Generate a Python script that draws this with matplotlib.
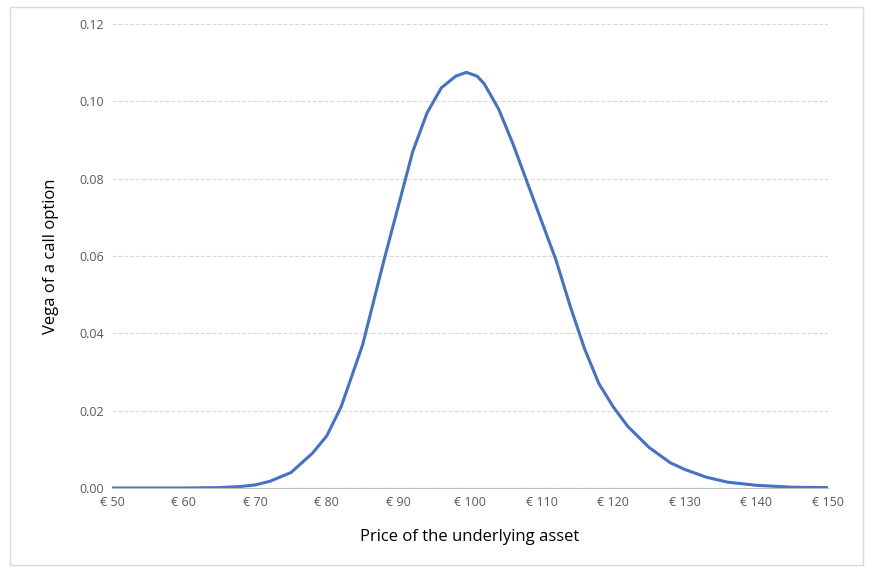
import matplotlib
matplotlib.use("Agg")
import matplotlib.pyplot as plt
from matplotlib.patches import Rectangle

# ── data ──────────────────────────────────────────────────────────────────────
price = [50, 55, 60, 65, 68, 70, 72, 75, 78, 80, 82, 85, 88, 90, 92, 94, 96, 98,
         99.5, 101, 102, 104, 106, 108, 110, 112, 114, 116, 118, 120, 122, 125,
         128, 130, 133, 136, 140, 145, 150]
vega = [0.0, 0.0, 0.0, 0.0001, 0.0004, 0.0008, 0.0017, 0.004, 0.009, 0.0135,
        0.021, 0.037, 0.059, 0.073, 0.087, 0.097, 0.1035, 0.1065, 0.1075, 0.1065,
        0.1045, 0.098, 0.089, 0.079, 0.069, 0.059, 0.047, 0.036, 0.027, 0.021,
        0.016, 0.0105, 0.0065, 0.0048, 0.0028, 0.0015, 0.0007, 0.0002, 0.0001]
xticks = list(range(50, 151, 10))
yticks = [0, 0.02, 0.04, 0.06, 0.08, 0.10, 0.12]

plt.rcParams["font.family"] = ["Open Sans", "DejaVu Sans"]

fig = plt.figure(figsize=(8.73, 5.72), dpi=100)
fig.patches.append(Rectangle((0.012, 0.012), 0.976, 0.976, transform=fig.transFigure,
                             fill=False, edgecolor="#d9d9d9", linewidth=1))
ax = fig.add_axes([112 / 873, 1 - 488 / 572, 716 / 873, 464 / 572])

ax.plot(price, vega, color="#4472C4", linewidth=2.2)

ax.set_xlim(50, 150)
ax.set_ylim(0, 0.12)
ax.set_xticks(xticks)
ax.set_xticklabels([f"€ {v}" for v in xticks], fontsize=9, color="#595959")
ax.set_yticks(yticks)
ax.set_yticklabels([f"{v:.2f}" for v in yticks], fontsize=9, color="#595959")
ax.tick_params(length=0, pad=6)
ax.grid(axis="y", color="#d9d9d9", linestyle="--", linewidth=0.8)
ax.set_axisbelow(True)
for s in ["top", "right", "left"]:
    ax.spines[s].set_visible(False)
ax.spines["bottom"].set_color("#bfbfbf")

ax.set_xlabel("Price of the underlying asset", fontsize=12, labelpad=14)
ax.set_ylabel("Vega of a call option", fontsize=12, labelpad=14)

fig.savefig("out.png", dpi=100, facecolor="white")
